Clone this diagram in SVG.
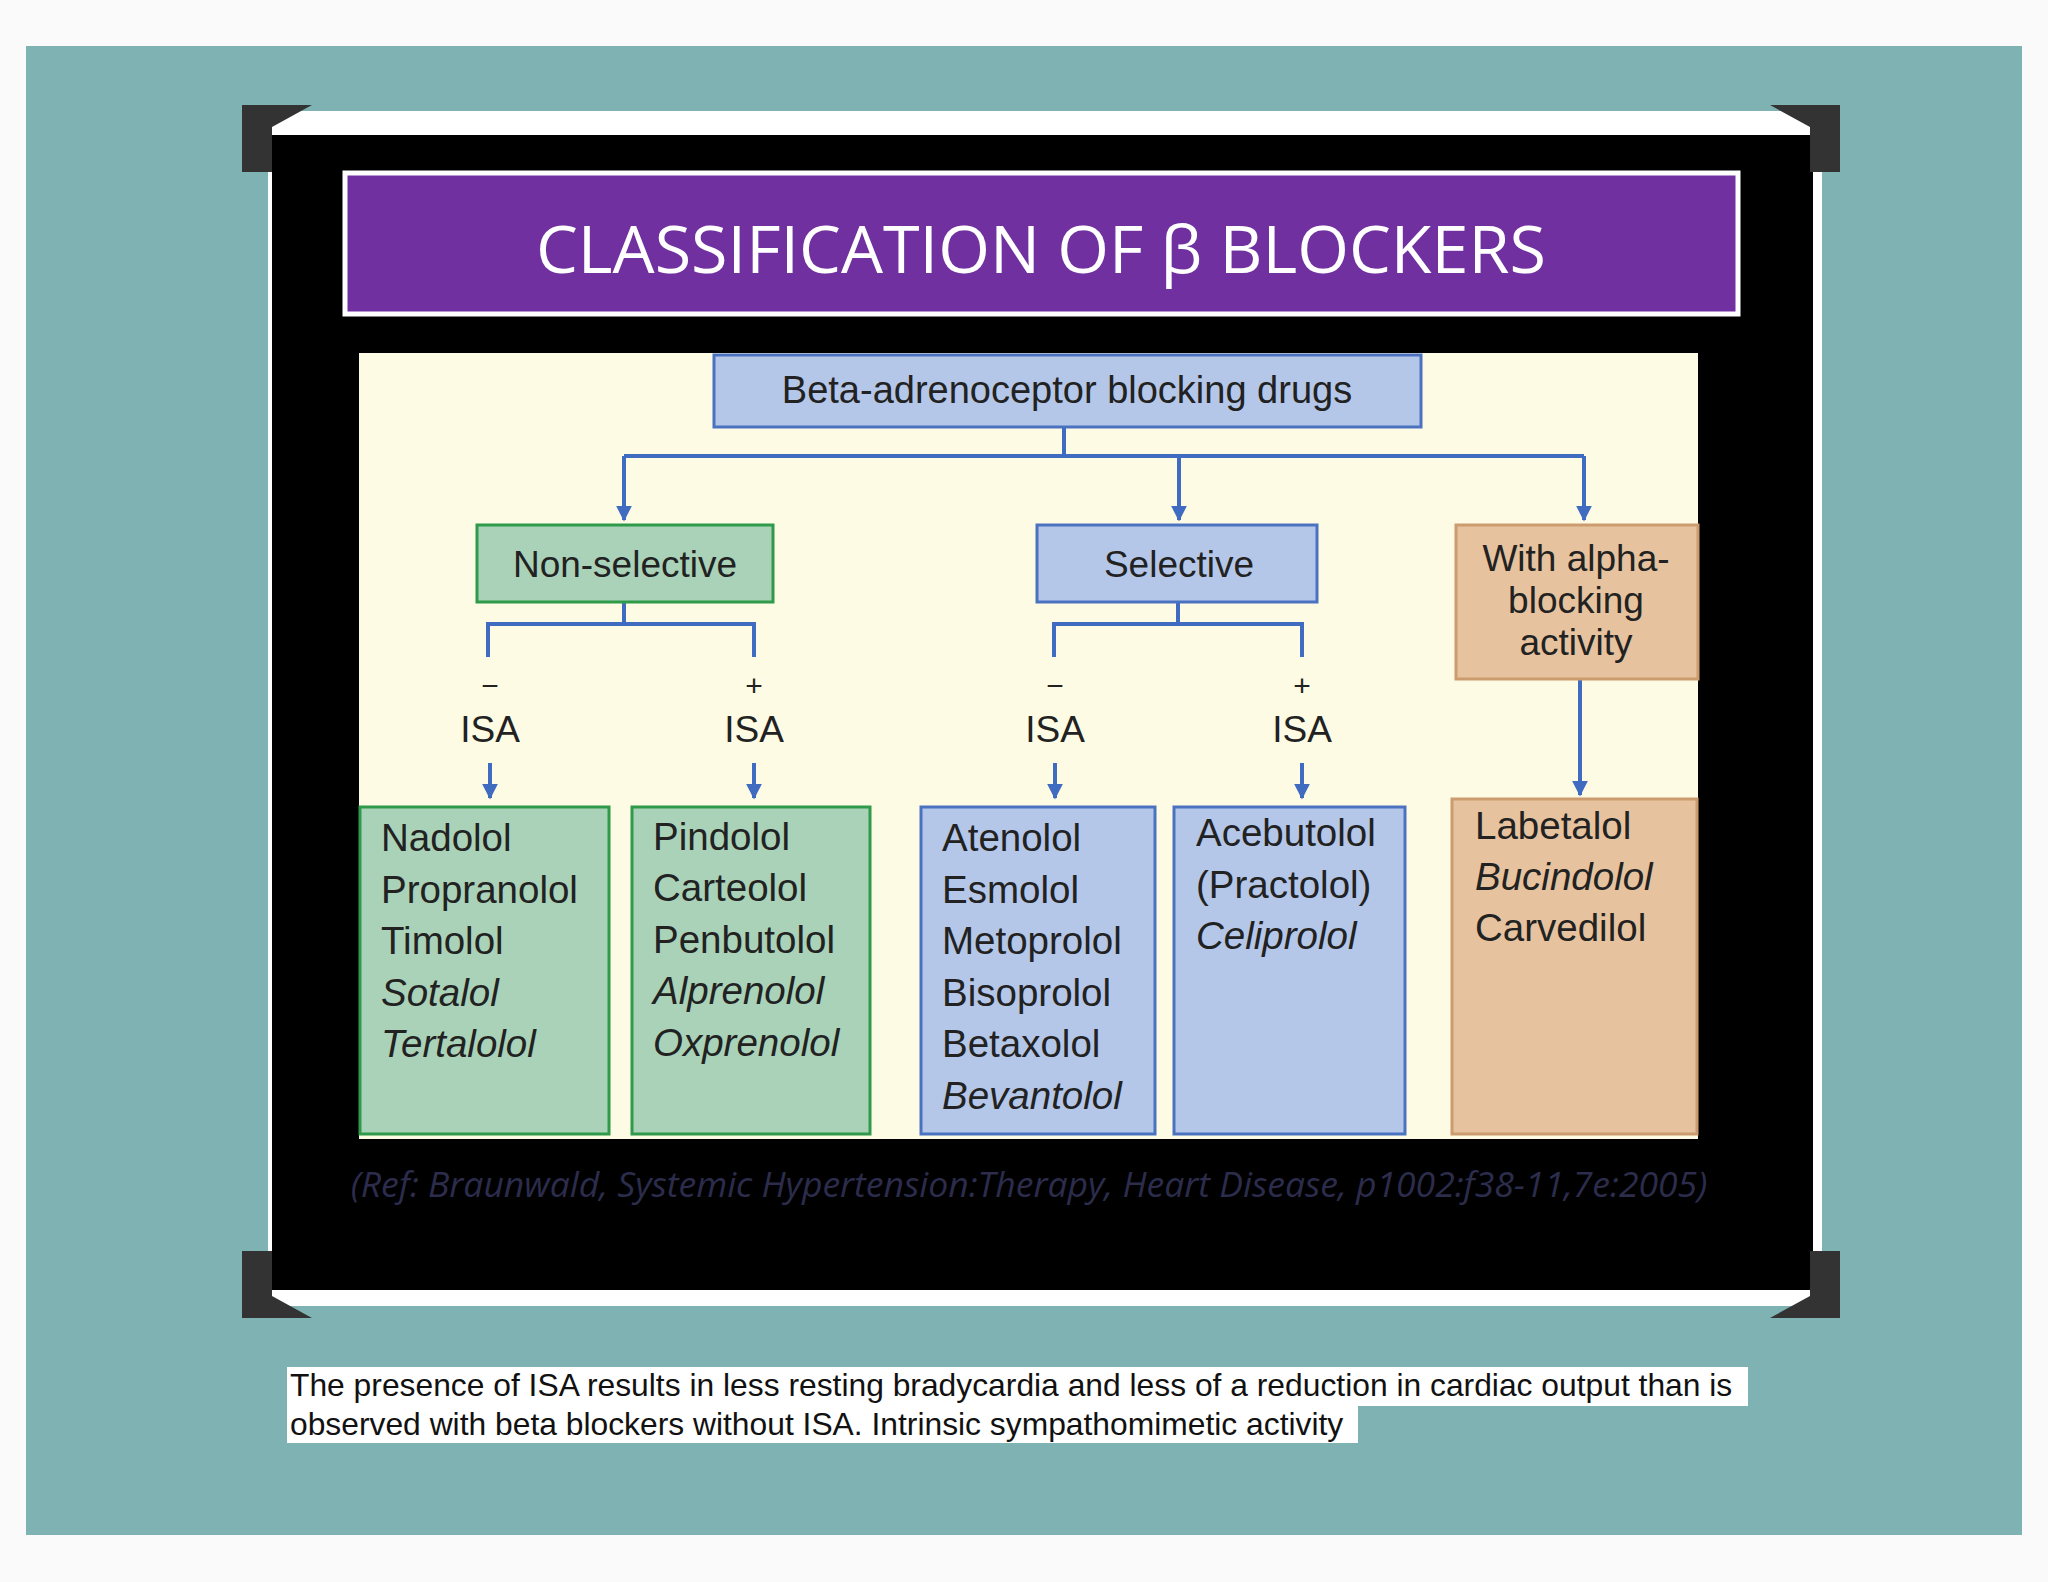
<svg xmlns="http://www.w3.org/2000/svg" width="2048" height="1582" viewBox="0 0 2048 1582">
<style>
.t{font-family:"Liberation Sans",Arial,sans-serif;fill:#222}
.d{font-size:38.5px}
.i{font-style:italic}
.blue{fill:#b4c7e9;stroke:#4a72c0;stroke-width:3}
.green{fill:#a9d2b8;stroke:#2e9a4a;stroke-width:3}
.tan{fill:#e6c39e;stroke:#cc9c6e;stroke-width:3}
.c{fill:none;stroke:#3f6cc0;stroke-width:4}
</style>
<defs><marker id="a" viewBox="0 0 10 10" refX="9" refY="5" markerWidth="4" markerHeight="4" orient="auto"><path d="M0,0L10,5L0,10z" fill="#3f6cc0"/></marker></defs>
<rect width="2048" height="1582" fill="#fafafa"/>
<rect x="26" y="46" width="1996" height="1489" fill="#7fb3b3"/>
<rect x="268" y="111" width="1554" height="1195" fill="#fff"/>
<rect x="272" y="135" width="1541" height="1155" fill="#000"/>
<g fill="#333"><path d="M242,105h70l-40,22v45l-30,0z"/><path d="M1840,105h-70l40,22v45l30,0z"/><path d="M242,1318h70l-40,-22v-45l-30,0z"/><path d="M1840,1318h-70l40,-22v-45l30,0z"/></g>
<g id="title"><rect x="345" y="173" width="1393" height="141" fill="#7030a0" stroke="#fff" stroke-width="5"/><text x="1041" y="273" text-anchor="middle" font-family="Open Sans,sans-serif" font-size="66.5" fill="#fff">CLASSIFICATION OF β BLOCKERS</text></g>
<rect x="359" y="353" width="1339" height="786" fill="#fdfbe4"/>
<g id="connectors">
<path class="c" d="M1064,427V456M624,456H1584"/>
<path class="c" d="M624,456V520" marker-end="url(#a)"/>
<path class="c" d="M1179,456V520" marker-end="url(#a)"/>
<path class="c" d="M1584,456V520" marker-end="url(#a)"/>
<path class="c" d="M624,602V624M488,657V624H754V657"/>
<path class="c" d="M1178,602V624M1054,657V624H1302V657"/>
<path class="c" d="M490,763V798" marker-end="url(#a)"/>
<path class="c" d="M754,763V798" marker-end="url(#a)"/>
<path class="c" d="M1055,763V798" marker-end="url(#a)"/>
<path class="c" d="M1302,763V798" marker-end="url(#a)"/>
<path class="c" d="M1580,679V795" marker-end="url(#a)"/>
</g>
<g id="root"><rect class="blue" x="714" y="355" width="707" height="72"/><text class="t" x="1067" y="403" text-anchor="middle" font-size="38">Beta-adrenoceptor blocking drugs</text></g>
<g id="nonsel"><rect class="green" x="477" y="525" width="296" height="77"/><text class="t" x="625" y="577" text-anchor="middle" font-size="37">Non-selective</text></g>
<g id="sel"><rect class="blue" x="1037" y="525" width="280" height="77"/><text class="t" x="1179" y="577" text-anchor="middle" font-size="37">Selective</text></g>
<g id="alpha"><rect class="tan" x="1456" y="525" width="242" height="154"/><text class="t" text-anchor="middle" font-size="37"><tspan x="1576" y="571">With alpha-</tspan><tspan x="1576" y="613">blocking</tspan><tspan x="1576" y="655">activity</tspan></text></g>
<g id="isa" class="t" text-anchor="middle" font-size="37">
<text x="490" y="696" font-size="30">−</text><text x="490" y="742">ISA</text>
<text x="754" y="696" font-size="30">+</text><text x="754" y="742">ISA</text>
<text x="1055" y="696" font-size="30">−</text><text x="1055" y="742">ISA</text>
<text x="1302" y="696" font-size="30">+</text><text x="1302" y="742">ISA</text>
</g>
<g id="b1"><rect class="green" x="360" y="807" width="249" height="327"/><text class="t d"><tspan x="381" y="851">Nadolol</tspan><tspan x="381" y="903">Propranolol</tspan><tspan x="381" y="954">Timolol</tspan><tspan class="i" x="381" y="1006">Sotalol</tspan><tspan class="i" x="381" y="1057">Tertalolol</tspan></text></g>
<g id="b2"><rect class="green" x="632" y="807" width="238" height="327"/><text class="t d"><tspan x="653" y="850">Pindolol</tspan><tspan x="653" y="901">Carteolol</tspan><tspan x="653" y="953">Penbutolol</tspan><tspan class="i" x="653" y="1004">Alprenolol</tspan><tspan class="i" x="653" y="1056">Oxprenolol</tspan></text></g>
<g id="b3"><rect class="blue" x="921" y="807" width="234" height="327"/><text class="t d"><tspan x="942" y="851">Atenolol</tspan><tspan x="942" y="903">Esmolol</tspan><tspan x="942" y="954">Metoprolol</tspan><tspan x="942" y="1006">Bisoprolol</tspan><tspan x="942" y="1057">Betaxolol</tspan><tspan class="i" x="942" y="1109">Bevantolol</tspan></text></g>
<g id="b4"><rect class="blue" x="1174" y="807" width="231" height="327"/><text class="t d"><tspan x="1196" y="846">Acebutolol</tspan><tspan x="1196" y="898">(Practolol)</tspan><tspan class="i" x="1196" y="949">Celiprolol</tspan></text></g>
<g id="b5"><rect class="tan" x="1452" y="799" width="245" height="335"/><text class="t d"><tspan x="1475" y="839">Labetalol</tspan><tspan class="i" x="1475" y="890">Bucindolol</tspan><tspan x="1475" y="941">Carvedilol</tspan></text></g>
<text x="1029" y="1197" text-anchor="middle" font-family="Open Sans,sans-serif" font-style="italic" font-size="35.5" fill="#2c2c4c">(Ref: Braunwald, Systemic Hypertension:Therapy, Heart Disease, p1002:f38-11,7e:2005)</text>
<rect x="287" y="1367" width="1461" height="39" fill="#fff"/><rect x="287" y="1406" width="1071" height="37" fill="#fff"/>
<text font-family="Liberation Sans,Arial,sans-serif" font-size="31.8" fill="#111"><tspan x="290" y="1396">The presence of ISA results in less resting bradycardia and less of a reduction in cardiac output than is</tspan><tspan x="290" y="1435">observed with beta blockers without ISA. Intrinsic sympathomimetic  activity</tspan></text>
</svg>
